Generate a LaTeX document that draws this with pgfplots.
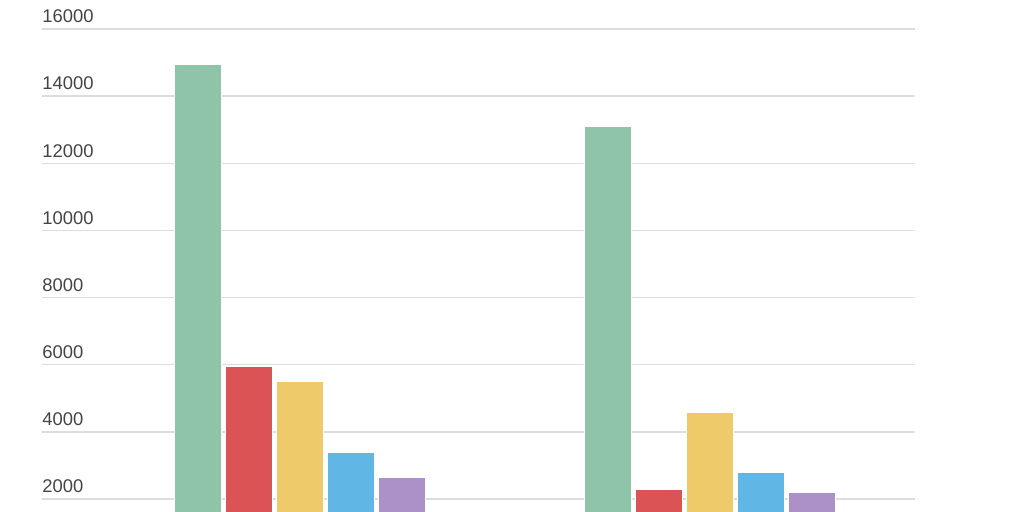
\documentclass[border=0pt]{standalone}
\usepackage{pgfplots}
\pgfplotsset{compat=1.18}
\usepackage{fontspec}
\setmainfont{Liberation Sans}
\definecolor{cgreen}{HTML}{8FC4A9}
\definecolor{cred}{HTML}{DC5356}
\definecolor{cyellow}{HTML}{EFCA6A}
\definecolor{cblue}{HTML}{60B6E4}
\definecolor{cpurple}{HTML}{AB91C8}
\definecolor{cgrid}{HTML}{DDDDDD}
\definecolor{ctext}{HTML}{444444}
\begin{document}
\begin{tikzpicture}
\useasboundingbox (0,0) rectangle (512pt,256pt);
\begin{axis}[
  at={(21pt,0pt)}, anchor=south west,
  scale only axis, width=436.5pt, height=241.5pt,
  ybar=1.75pt, bar width=23.75pt,
  xmin=-0.6293, xmax=1.5,
  ymin=1613, ymax=16000,
  xtick=\empty,
  ytick={2000,4000,6000,8000,10000,12000,14000,16000},
  scaled y ticks=false,
  ymajorgrids, grid style={cgrid, line width=0.75pt},
  axis line style={draw=none},
  major tick length=0pt,
  /pgf/number format/assume math mode=true,
  /pgf/number format/1000 sep={},
  yticklabel style={anchor=south west, inner sep=0pt, yshift=2.8pt, font=\fontsize{9.2}{10}\selectfont, text=ctext},
  every axis plot/.append style={draw=white, line width=0.3pt},
]
\addplot[fill=cgreen] coordinates {(0,14950) (1,13100)};
\addplot[fill=cred] coordinates {(0,5955) (1,2297)};
\addplot[fill=cyellow] coordinates {(0,5514) (1,4590)};
\addplot[fill=cblue] coordinates {(0,3399) (1,2803)};
\addplot[fill=cpurple] coordinates {(0,2654) (1,2207)};
\end{axis}
\end{tikzpicture}
\end{document}
